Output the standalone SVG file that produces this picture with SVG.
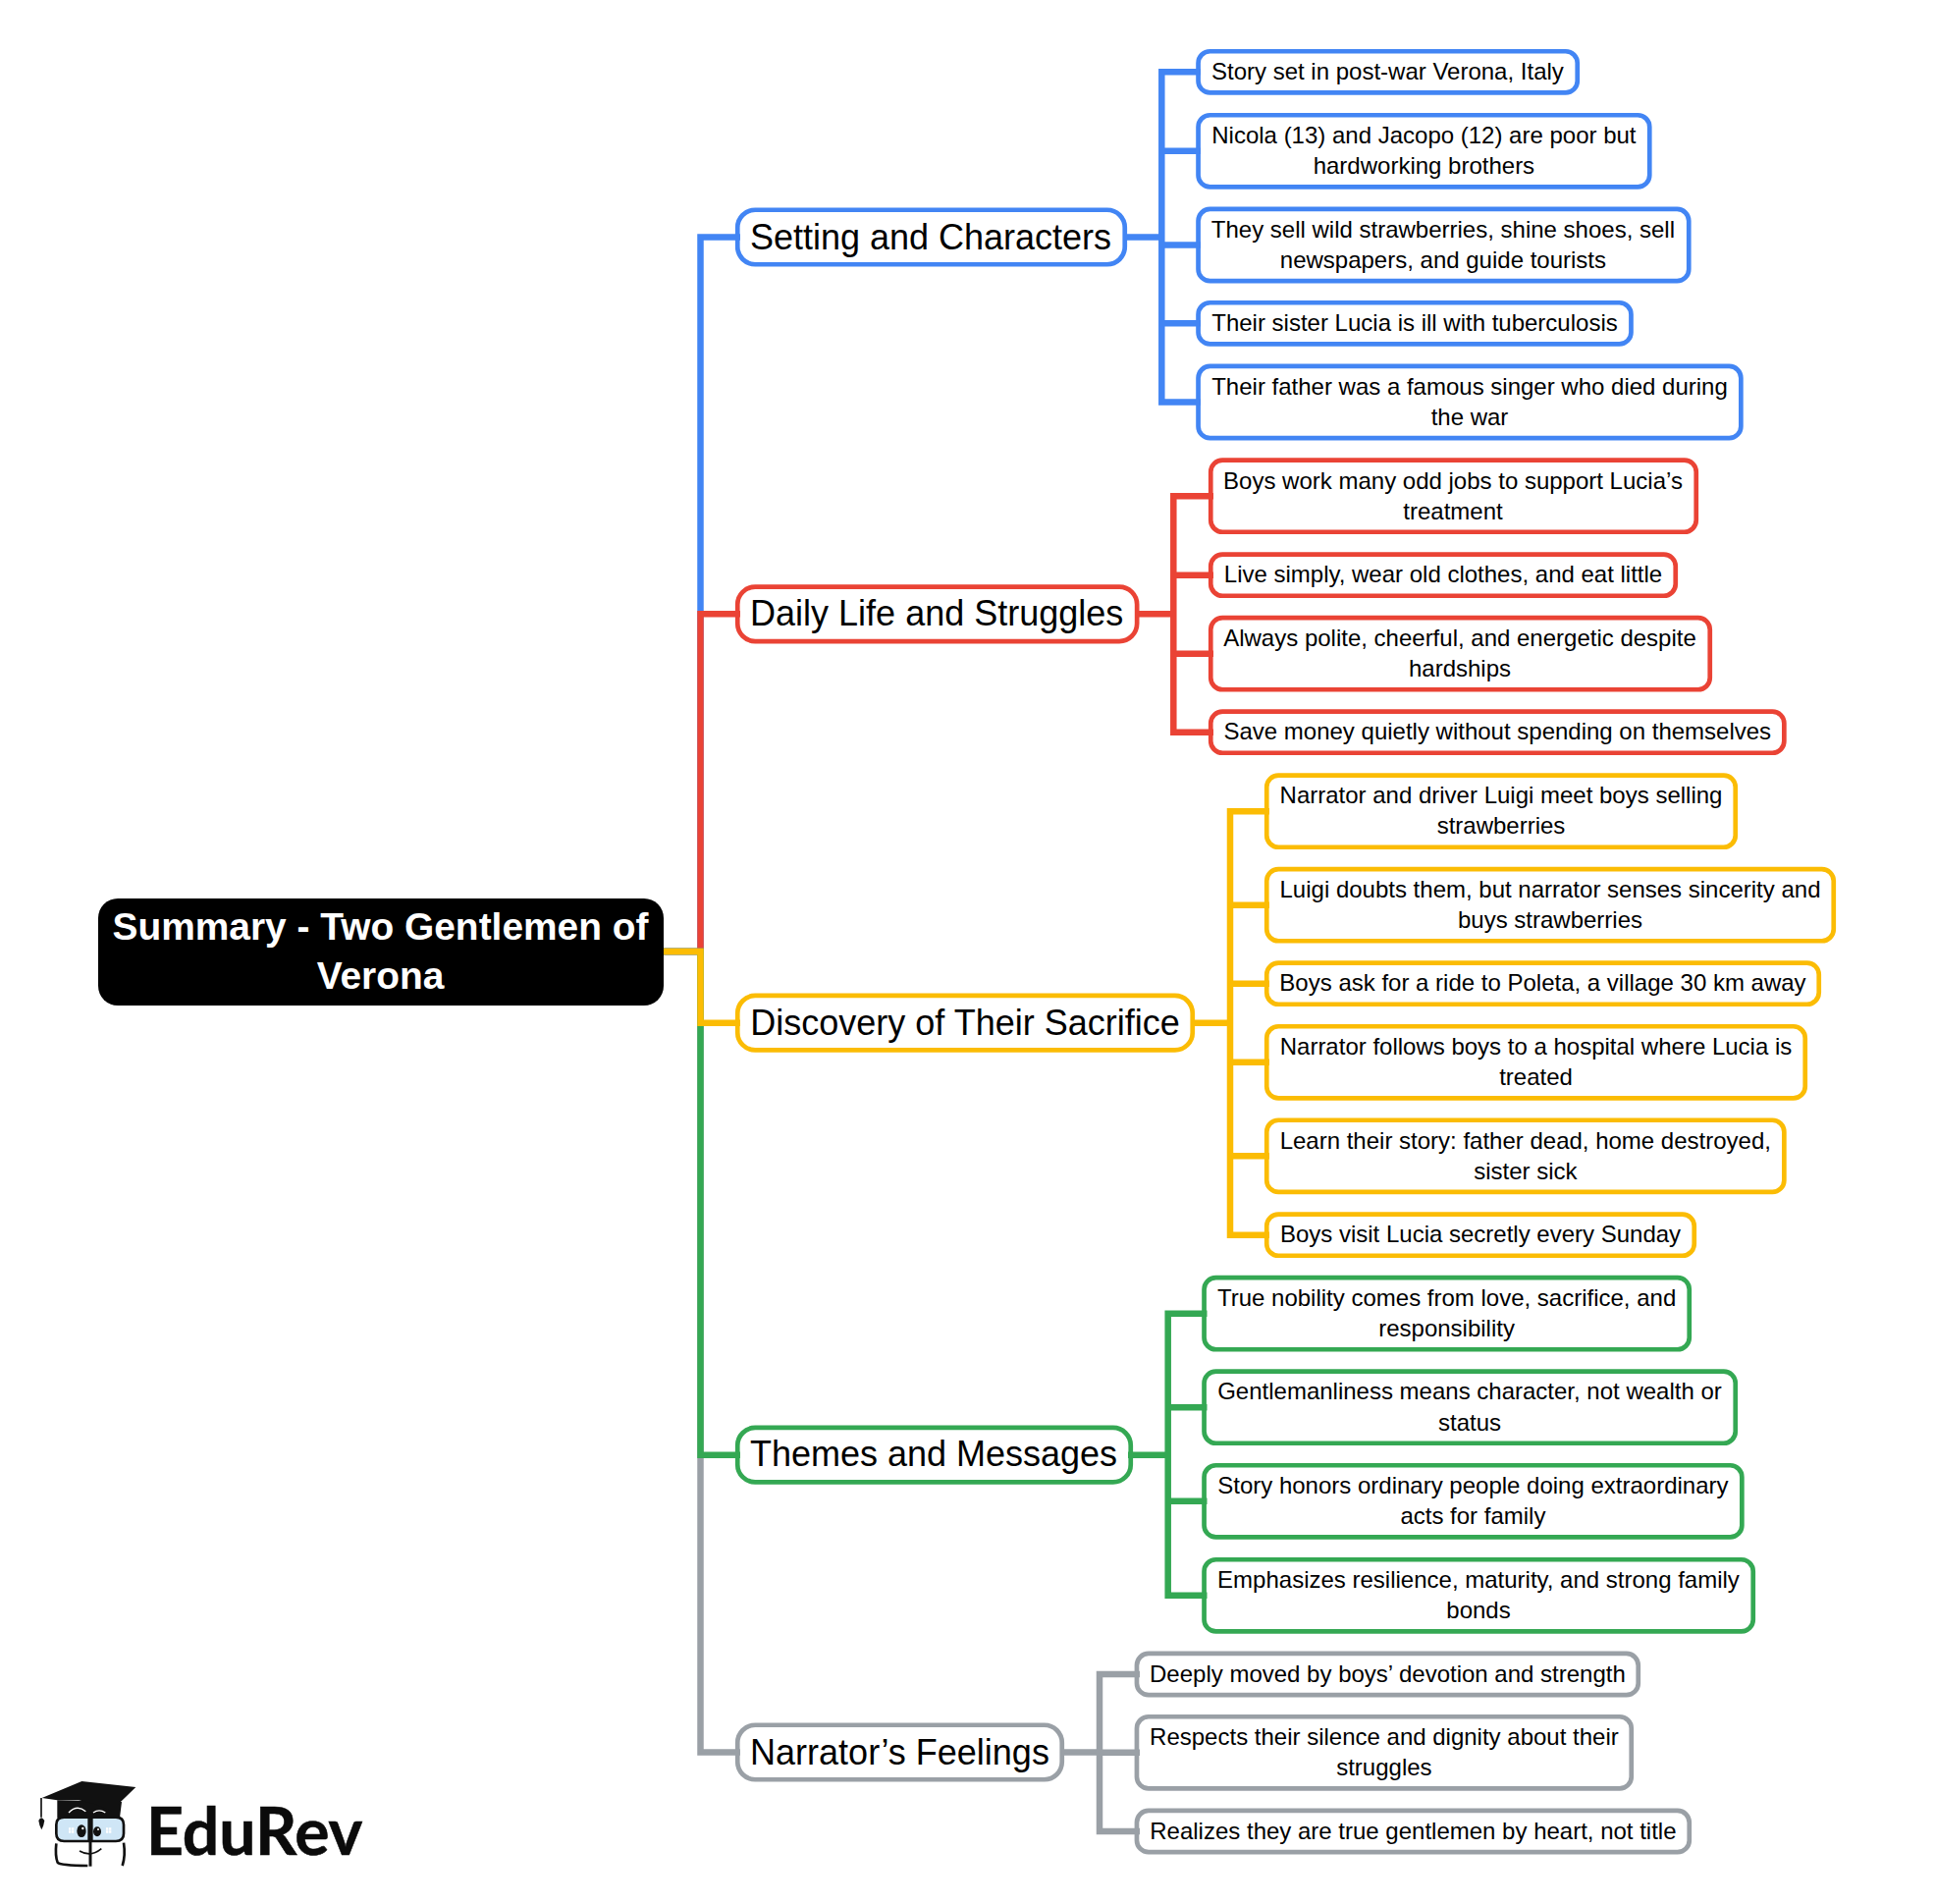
<svg xmlns="http://www.w3.org/2000/svg" width="1971" height="1939" viewBox="0 0 1971 1939">
<style>
text{font-family:"Liberation Sans",Arial,sans-serif;fill:#000;text-anchor:middle}
.t2{font-size:24px}
.t1{font-size:36px}
.t0{font-size:38.9px;font-weight:700;fill:#fff}
rect{fill:#fff;stroke-width:4.7}
.l2{rx:12px;ry:12px}
.l1{rx:18px;ry:18px}
.blue rect{stroke:#4285F4}
.red rect{stroke:#EA4335}
.yellow rect{stroke:#FBBC04}
.green rect{stroke:#34A853}
.gray rect{stroke:#9AA0A6}
#connectors path{fill:none;stroke-width:6.5;stroke-linejoin:miter}
.cb{stroke:#4285F4}.cr{stroke:#EA4335}.cy{stroke:#FBBC04}.cg{stroke:#34A853}.cn{stroke:#9AA0A6}
</style>
<rect width="1971" height="1939" style="fill:#fff;stroke:none"/>
<g id="root"><rect x="100" y="915" width="576" height="109" rx="20" ry="20" style="fill:#000;stroke:none"/>
<text class="t0" x="387.5" y="956.7">Summary - Two Gentlemen of</text><text class="t0" x="387.5" y="1006.7">Verona</text></g>

<g class="blue">
<g id="setting"><rect class="l1" x="751.25" y="213.75" width="394.5" height="55.5"/><text class="t1" x="948" y="254">Setting and Characters</text></g>
<g id="b1"><rect class="l2" x="1220.55" y="52.25" width="386.2" height="42.2"/><text class="t2" x="1413.4" y="81.05">Story set in post-war Verona, Italy</text></g>
<g id="b2"><rect class="l2" x="1220.55" y="117.25" width="459.7" height="73.2"/><text class="t2" x="1450.4" y="145.75">Nicola (13) and Jacopo (12) are poor but</text><text class="t2" x="1450.4" y="177.05">hardworking brothers</text></g>
<g id="b3"><rect class="l2" x="1220.55" y="212.95" width="499.7" height="73.2"/><text class="t2" x="1469.9" y="242">They sell wild strawberries, shine shoes, sell</text><text class="t2" x="1469.9" y="272.75">newspapers, and guide tourists</text></g>
<g id="b4"><rect class="l2" x="1220.55" y="308.25" width="440.9" height="42.2"/><text class="t2" x="1441" y="337.05">Their sister Lucia is ill with tuberculosis</text></g>
<g id="b5"><rect class="l2" x="1220.55" y="372.95" width="552.8" height="73.2"/><text class="t2" x="1497" y="402">Their father was a famous singer who died during</text><text class="t2" x="1497" y="432.75">the war</text></g>
</g>

<g class="red">
<g id="daily"><rect class="l1" x="751.25" y="597.55" width="406.9" height="55.5"/><text class="t1" x="954.2" y="636.8">Daily Life and Struggles</text></g>
<g id="r1"><rect class="l2" x="1233.25" y="468.55" width="494.5" height="73.2"/><text class="t2" x="1480" y="498">Boys work many odd jobs to support Lucia’s</text><text class="t2" x="1480" y="529">treatment</text></g>
<g id="r2"><rect class="l2" x="1233.25" y="564.55" width="473.5" height="42.2"/><text class="t2" x="1470" y="593.35">Live simply, wear old clothes, and eat little</text></g>
<g id="r3"><rect class="l2" x="1233.25" y="629.05" width="508.5" height="73.2"/><text class="t2" x="1487" y="657.55">Always polite, cheerful, and energetic despite</text><text class="t2" x="1487" y="688.85">hardships</text></g>
<g id="r4"><rect class="l2" x="1233.25" y="724.55" width="584.1" height="42.2"/><text class="t2" x="1525.3" y="753.35">Save money quietly without spending on themselves</text></g>
</g>

<g class="yellow">
<g id="discovery"><rect class="l1" x="751.25" y="1013.95" width="463.5" height="55.5"/><text class="t1" x="983" y="1054">Discovery of Their Sacrifice</text></g>
<g id="y1"><rect class="l2" x="1290.25" y="789.55" width="477.5" height="73.2"/><text class="t2" x="1529" y="818.05">Narrator and driver Luigi meet boys selling</text><text class="t2" x="1529" y="849.35">strawberries</text></g>
<g id="y2"><rect class="l2" x="1290.25" y="885.05" width="577.5" height="73.2"/><text class="t2" x="1579" y="914">Luigi doubts them, but narrator senses sincerity and</text><text class="t2" x="1579" y="944.85">buys strawberries</text></g>
<g id="y3"><rect class="l2" x="1290.25" y="980.55" width="562.5" height="42.2"/><text class="t2" x="1571.5" y="1009.35">Boys ask for a ride to Poleta, a village 30 km away</text></g>
<g id="y4"><rect class="l2" x="1290.25" y="1045.25" width="548.5" height="73.2"/><text class="t2" x="1564.5" y="1073.75">Narrator follows boys to a hospital where Lucia is</text><text class="t2" x="1564.5" y="1105.05">treated</text></g>
<g id="y5"><rect class="l2" x="1290.25" y="1140.75" width="527.1" height="73.2"/><text class="t2" x="1553.8" y="1170">Learn their story: father dead, home destroyed,</text><text class="t2" x="1553.8" y="1200.55">sister sick</text></g>
<g id="y6"><rect class="l2" x="1290.25" y="1236.55" width="435.5" height="42.2"/><text class="t2" x="1508" y="1265.35">Boys visit Lucia secretly every Sunday</text></g>
</g>

<g class="green">
<g id="themes"><rect class="l1" x="751.25" y="1453.95" width="400.5" height="55.5"/><text class="t1" x="951" y="1493.2">Themes and Messages</text></g>
<g id="g1"><rect class="l2" x="1226.55" y="1301.05" width="494.2" height="73.2"/><text class="t2" x="1473.6" y="1329.55">True nobility comes from love, sacrifice, and</text><text class="t2" x="1473.6" y="1360.85">responsibility</text></g>
<g id="g2"><rect class="l2" x="1226.55" y="1396.55" width="541.2" height="73.2"/><text class="t2" x="1497" y="1425.05">Gentlemanliness means character, not wealth or</text><text class="t2" x="1497" y="1457">status</text></g>
<g id="g3"><rect class="l2" x="1226.55" y="1492.25" width="547.8" height="73.2"/><text class="t2" x="1500.4" y="1520.75">Story honors ordinary people doing extraordinary</text><text class="t2" x="1500.4" y="1552.05">acts for family</text></g>
<g id="g4"><rect class="l2" x="1226.55" y="1588.25" width="559.2" height="73.2"/><text class="t2" x="1506" y="1616.75">Emphasizes resilience, maturity, and strong family</text><text class="t2" x="1506" y="1648.05">bonds</text></g>
</g>

<g class="gray">
<g id="feelings"><rect class="l1" x="751.25" y="1756.75" width="330.5" height="55.5"/><text class="t1" x="916.5" y="1797">Narrator’s Feelings</text></g>
<g id="n1"><rect class="l2" x="1157.95" y="1683.95" width="510.8" height="42.2"/><text class="t2" x="1413.4" y="1712.75">Deeply moved by boys’ devotion and strength</text></g>
<g id="n2"><rect class="l2" x="1157.95" y="1748.25" width="503.8" height="73.2"/><text class="t2" x="1409.9" y="1776.75">Respects their silence and dignity about their</text><text class="t2" x="1409.9" y="1808.05">struggles</text></g>
<g id="n3"><rect class="l2" x="1157.95" y="1843.95" width="562.8" height="42.2"/><text class="t2" x="1439.4" y="1872.75">Realizes they are true gentlemen by heart, not title</text></g>
</g>

<g id="connectors">
<path class="cb" d="M676 969H713.5V241.5H754M1144 241.5H1183.3M1223 73.35H1183.3V409.55H1223M1183.3 153.85H1223M1183.3 249.55H1223M1183.3 329.35H1223"/>
<path class="cr" d="M676 969H713.5V625.3H754M1156 625.3H1195.3M1236 505.15H1195.3V745.65H1236M1195.3 585.65H1236M1195.3 665.65H1236"/>
<path class="cn" d="M676 969H713.5V1784.5H754M1080 1784.5H1120M1161 1705.05H1120V1865.05H1161M1120 1784.85H1161"/>
<path class="cg" d="M676 969H713.5V1481.7H754M1149 1481.7H1189.7M1229.5 1337.65H1189.7V1624.85H1229.5M1189.7 1433.15H1229.5M1189.7 1528.85H1229.5"/>
<path class="cy" d="M676 969H713.5V1041.7H754M1213 1041.7H1253M1293 826.15H1253V1257.65H1293M1253 921.65H1293M1253 1001.65H1293M1253 1081.85H1293M1253 1177.35H1293"/>
</g>

<g id="logo">
<g transform="translate(0,1750) scale(.33333)">
<path d="M175 250L372 255L366 304H175Z" fill="#111"/>
<path d="M210 288Q235 262 262 284M285 288Q303 275 322 288" fill="none" stroke="#fff" stroke-width="4"/>
<path d="M128 243L250 192L415 210L340 283L290 262L240 250L175 250Z" fill="#111"/>
<path d="M126 243V302" stroke="#111" stroke-width="5" fill="none"/>
<path d="M118 312Q126 296 136 312Q134 328 127 340Q120 328 118 312Z" fill="#111"/>
<path d="M196 302H272V375H196Q172 375 172 352V325Q172 302 196 302ZM280 302H354Q378 302 378 325V352Q378 375 354 375H280Z" fill="#cfe6f6" stroke="#111" stroke-width="8"/>
<path d="M172 382Q168 420 176 440Q184 450 268 450M378 380Q384 420 374 450" fill="none" stroke="#111" stroke-width="8"/>
<path d="M276 302V452" stroke="#111" stroke-width="9" fill="none"/>
<path d="M243 405Q278 425 310 398" fill="none" stroke="#111" stroke-width="5"/>
<ellipse cx="249" cy="344" rx="14" ry="19" fill="#111"/><ellipse cx="297" cy="346" rx="12" ry="15" fill="#111"/>
<circle cx="253" cy="336" r="3.5" fill="#fff"/><circle cx="300" cy="339" r="3" fill="#fff"/>
<path d="M210 334h7v7h-7zM219 334h7v7h-7zM210 343h7v7h-7zM219 343h7v7h-7zM324 334h7v7h-7zM333 334h7v7h-7zM324 343h7v7h-7zM333 343h7v7h-7z" fill="#fff"/>
</g>
<text x="149" y="1889" style="font-family:Lato,'Liberation Sans',sans-serif;font-size:66px;font-weight:700;text-anchor:start;fill:#0b0b0b;stroke:#0b0b0b;stroke-width:.6">EduRev</text>
</g>
</svg>
